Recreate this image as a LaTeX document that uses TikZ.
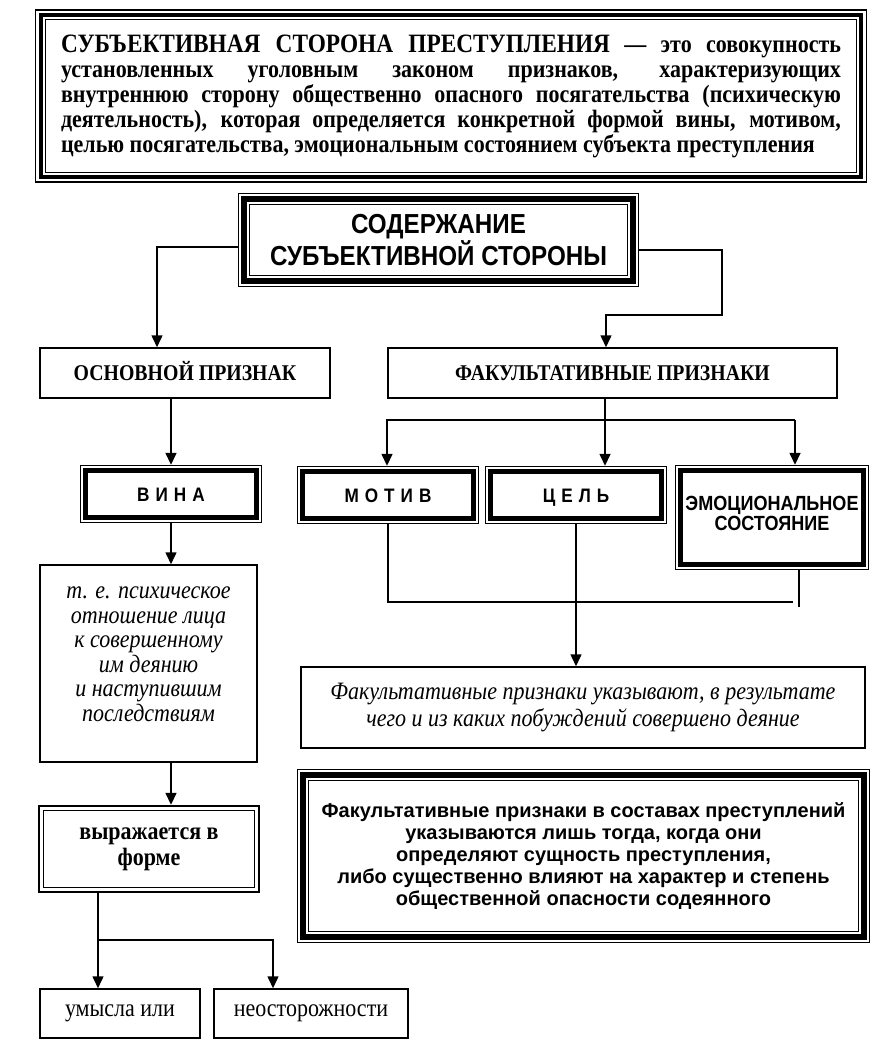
\documentclass[tikz,border=0pt]{standalone}
\usepackage{fontspec}
\setmainfont{Liberation Serif}[FakeStretch=0.88]
\newfontfamily\sansb{Liberation Sans}[FakeStretch=0.88]
\newfontfamily\sansn{Liberation Sans}
\usetikzlibrary{arrows.meta}
\newcommand\frm[3]{\draw[line width=#3pt] ([xshift=#2pt+#3pt/2,yshift=-#2pt-#3pt/2]#1.north west) rectangle ([xshift=-#2pt-#3pt/2,yshift=#2pt+#3pt/2]#1.south east);}
\newcommand\jline[1]{\makebox[780pt][s]{#1}}
\begin{document}
\begin{tikzpicture}[x=1pt,y=-1pt,
  box/.style={draw, line width=1.5pt, inner sep=0pt},
  framed/.style={inner sep=0pt},
  arr/.style={line width=1.5pt, -{Triangle[width=11pt,length=12pt]}},
  ln/.style={line width=1.5pt},
  tnr/.style={font=\bfseries\fontsize{22.5}{25}\selectfont, text height=15pt, text depth=0pt},
  sp/.style={font=\sansb\bfseries\fontsize{19.5}{22}\selectfont, text height=14pt, text depth=0pt}]
\useasboundingbox (0,0) rectangle (887,1046);
% ---------- nodes ----------
\node[framed, minimum width=832, minimum height=173, align=left,
      font=\bfseries\fontsize{25}{25}\selectfont] (top) at (451,96)
 {\jline{{\fontsize{26.5}{25}\selectfont СУБЪЕКТИВНАЯ СТОРОНА ПРЕСТУПЛЕНИЯ} — это совокупность}\\
  \jline{установленных уголовным законом признаков, характеризующих}\\
  \jline{внутреннюю сторону общественно опасного посягательства (психическую}\\
  \jline{деятельность), которая определяется конкретной формой вины, мотивом,}\\
  целью посягательства, эмоциональным состоянием субъекта преступления};
\node[framed, minimum width=401, minimum height=94, align=center,
      font=\sansb\bfseries\fontsize{27.5}{29}\selectfont] (main) at (438.5,240)
 {СОДЕРЖАНИЕ\\СУБЪЕКТИВНОЙ СТОРОНЫ};
\node[box, tnr, minimum width=290, minimum height=50] (osn) at (185,373) {ОСНОВНОЙ ПРИЗНАК};
\node[box, tnr, minimum width=449, minimum height=50] (fak) at (612.5,373) {ФАКУЛЬТАТИВНЫЕ ПРИЗНАКИ};
\node[framed, sp, minimum width=182, minimum height=58] (vina) at (171,494)
 {В\hspace{6pt}И\hspace{6pt}Н\hspace{6pt}А};
\node[framed, sp, minimum width=182, minimum height=58] (mot) at (388,495)
 {М\hspace{6pt}О\hspace{6pt}Т\hspace{6pt}И\hspace{6pt}В};
\node[framed, sp, minimum width=182, minimum height=58] (cel) at (576,495)
 {Ц\hspace{6pt}Е\hspace{6pt}Л\hspace{6pt}Ь};
\node[framed, minimum width=194, minimum height=105, align=center,
      font=\sansb\bfseries\fontsize{20.5}{20.5}\selectfont] (emo) at (772,517.5)
 {ЭМОЦИОНАЛЬНОЕ\\СОСТОЯНИЕ\\[-12pt]\mbox{}};
\node[box, minimum width=217, minimum height=197, align=center,
      font=\itshape\fontsize{25}{24.6}\selectfont] (txt) at (148.5,663.5)
 {т. е. психическое\\отношение лица\\к совершенному\\им деянию\\и наступившим\\последствиям\\[-6pt]\mbox{}};
\node[box, minimum width=564, minimum height=81, align=center,
      font=\itshape\fontsize{25}{27}\selectfont] (it) at (583,707.5)
 {Факультативные признаки указывают, в результате\\чего и из каких побуждений совершено деяние};
\node[framed, minimum width=573, minimum height=174, align=center,
      font=\sansn\bfseries\fontsize{20}{22}\selectfont] (bold) at (583.5,856)
 {Факультативные признаки в составах преступлений\\указываются лишь тогда, когда они\\определяют сущность преступления,\\либо существенно влияют на характер и степень\\общественной опасности содеянного};
\node[framed, minimum width=222, minimum height=88, align=center,
      font=\bfseries\fontsize{25}{26}\selectfont] (vyr) at (149,849)
 {выражается в\\форме};
\node[box, minimum width=160, minimum height=49, font=\fontsize{25}{26}\selectfont] (um) at (120,1013.5) {умысла или};
\node[box, minimum width=194, minimum height=49, font=\fontsize{25}{26}\selectfont] (ne) at (311,1013.5) {неосторожности};
% ---------- frames ----------
\frm{top}{0}{1.5}\frm{top}{4}{4}\frm{top}{10}{1.2}
\frm{main}{0}{1.2}\frm{main}{3.5}{6}\frm{main}{11.5}{1}
\frm{vina}{0}{1.2}\frm{vina}{3}{5.5}
\frm{mot}{0}{1.2}\frm{mot}{3}{5.5}
\frm{cel}{0}{1.2}\frm{cel}{3}{5.5}
\frm{emo}{0}{1.2}\frm{emo}{3}{5.5}
\frm{bold}{0}{1.2}\frm{bold}{3.5}{6}\frm{bold}{11}{1}
\frm{vyr}{0}{2.5}\frm{vyr}{5}{1}
% ---------- connectors ----------
\coordinate (c1) at (157,247);
\coordinate (c2) at (722,250);
\coordinate (c3) at (606,315);
\draw[arr] (main.west |- c1) -- (c1) -- (c1 |- osn.north);
\draw[arr] (main.east |- c2) -- (c2) -- (c2 |- c3) -- (c3) -- (c3 |- fak.north);
\draw[arr] (vina.north |- osn.south) -- (vina.north);
\draw[arr] (vina.south) -- (vina.south |- txt.north);
\draw[arr] (vina.south |- txt.south) -- (vina.south |- vyr.north);
\coordinate (c4) at (98,940);
\coordinate (c5) at (273,940);
\draw[arr] (c4 |- vyr.south) -- (c4 |- um.north);
\draw[arr] (c4) -- (c5) -- (c5 |- ne.north);
\coordinate (c6) at (605,420);
\coordinate (c7) at (387,420);
\coordinate (c8) at (795,420);
\draw[arr] (c6 |- fak.south) -- (c6 |- cel.north);
\draw[arr] (c8) -- (c7) -- (c7 |- mot.north);
\draw[arr] (c8) -- (c8 |- emo.north);
\coordinate (c9) at (793,602);
\coordinate (c10) at (799,607);
\draw[ln] (mot.south) -- (mot.south |- c9) -- (c9);
\draw[ln] (c10 |- emo.south) -- (c10);
\draw[arr] (cel.south) -- (cel.south |- it.north);
\end{tikzpicture}
\end{document}
